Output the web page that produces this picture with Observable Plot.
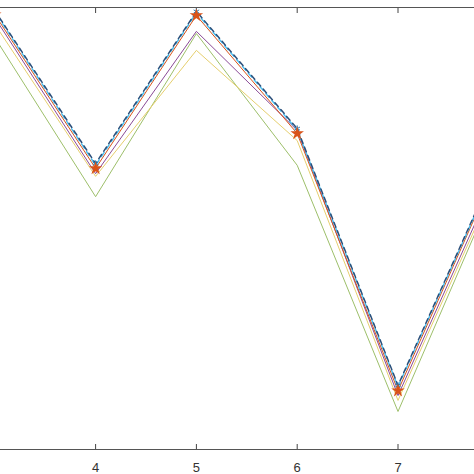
<!DOCTYPE html>
<html>
<head>
<meta charset="utf-8">
<script src="https://cdn.jsdelivr.net/npm/d3@7"></script>
<script src="https://cdn.jsdelivr.net/npm/@observablehq/plot@0.6"></script>
<style>
  html, body { margin: 0; padding: 0; background: #fff; overflow: hidden; }
  #chart svg { display: block; }
</style>
</head>
<body>
<div id="chart"></div>
<script>
const xs = [3, 4, 5, 6, 7, 8];
const xTicks = [4, 5, 6, 7];
const blueDashed  = [99.3, 64.7, 99.1, 72.6, 14.5, 65.4];
const cyanDashed  = [99.0, 64.3, 98.8, 72.3, 14.2, 65.1];
const orangeStar  = [98.4, 63.6, 98.2, 71.5, 13.3, 64.7];
const purpleLine  = [97.7, 62.4, 94.6, 72.2, 12.2, 63.1];
const yellowLine  = [96.2, 61.8, 90.3, 69.9, 11.1, 62.0];
const greenLine   = [93.2, 57.2, 94.1, 64.3, 8.6, 61.3];
const yDomain = [0, 100];

const rows = v => xs.map((x, i) => ({x, y: v[i]}));
const fmt = d3.format("d");

const chart = Plot.plot({
  width: 474,
  height: 474,
  marginLeft: 0,
  marginRight: 0,
  marginTop: 7,
  marginBottom: 25,
  style: {fontFamily: "Liberation Sans, Arial, sans-serif", fontSize: "13px", color: "#333"},
  x: {domain: [3, 8], range: [-5.7, 498.3], label: null},
  y: {domain: yDomain, axis: null, label: null},
  marks: [
    Plot.ruleY([yDomain[0]], {stroke: "#555", strokeWidth: 1.2}),
    Plot.ruleY([yDomain[1]], {stroke: "#555", strokeWidth: 1.2}),
    Plot.axisX({anchor: "bottom", ticks: xTicks, tickSize: -5, tickFormat: () => "", stroke: "#444", label: null}),
    Plot.axisX({anchor: "top", ticks: xTicks, tickSize: -5, tickFormat: () => "", stroke: "#444", label: null}),
    Plot.axisX({anchor: "bottom", ticks: xTicks, tickSize: 0, tickPadding: 13, tickFormat: fmt, fill: "#333", fontSize: 13, label: null}),
    Plot.line(rows(greenLine), {x: "x", y: "y", stroke: "#9dbf6a", strokeWidth: 1}),
    Plot.line(rows(yellowLine), {x: "x", y: "y", stroke: "#e6cf6e", strokeWidth: 1}),
    Plot.line(rows(purpleLine), {x: "x", y: "y", stroke: "#8a4a96", strokeWidth: 1}),
    Plot.line(rows(orangeStar), {x: "x", y: "y", stroke: "#D95319", strokeWidth: 1}),
    Plot.line(rows(cyanDashed), {x: "x", y: "y", stroke: "#4DBEEE", strokeWidth: 1.5, strokeDasharray: "5,4", strokeDashoffset: 4}),
    Plot.line(rows(blueDashed), {x: "x", y: "y", stroke: "#2b4f7a", strokeWidth: 1.5, strokeDasharray: "5,4"}),
    Plot.dot(rows(blueDashed), {x: "x", y: "y", symbol: "asterisk", stroke: "#2a7fb8", r: 3, strokeWidth: 1}),
    Plot.dot(rows(orangeStar), {x: "x", y: "y", symbol: "star", fill: "#D95319", stroke: "#D95319", r: 2.8})
  ]
});
document.getElementById("chart").appendChild(chart);
</script>
</body>
</html>
